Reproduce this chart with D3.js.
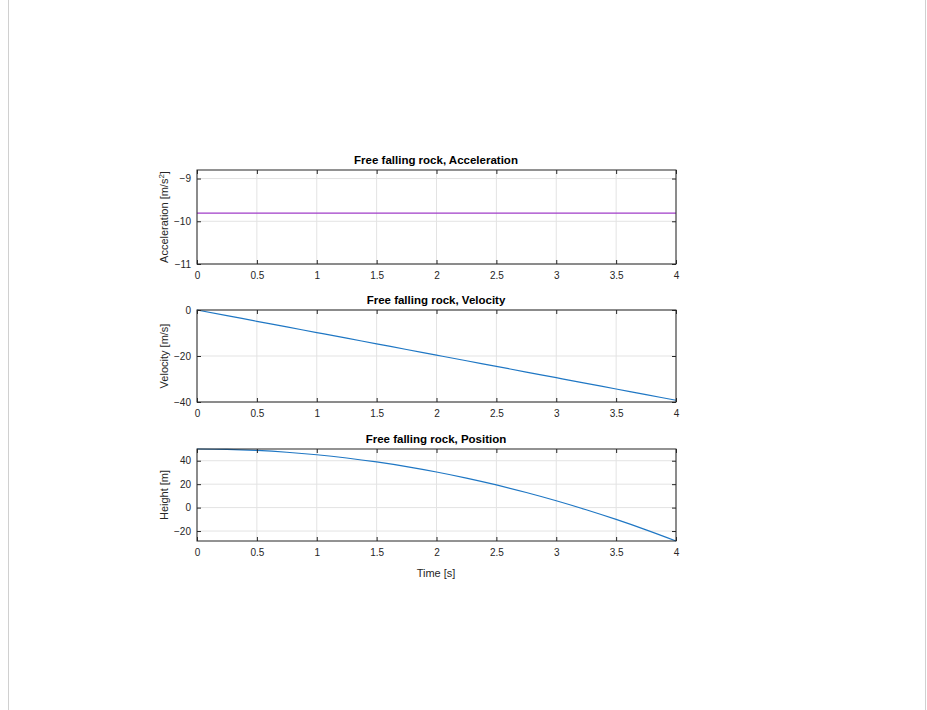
<!DOCTYPE html><html><head><script src="https://cdn.jsdelivr.net/npm/d3@7"></script>
<style>body{margin:0;background:#fff}svg{font-family:"Liberation Sans",Arial,sans-serif}</style></head><body>
<svg id="c" width="927" height="710"></svg>
<script>
const times=[0,0.25,0.5,0.75,1,1.25,1.5,1.75,2,2.25,2.5,2.75,3,3.25,3.5,3.75,4];
const acceleration=[-9.81,-9.81,-9.81,-9.81,-9.81,-9.81,-9.81,-9.81,-9.81,-9.81,-9.81,-9.81,-9.81,-9.81,-9.81,-9.81,-9.81];
const velocity=[0,-2.45,-4.91,-7.36,-9.81,-12.26,-14.72,-17.17,-19.62,-22.07,-24.53,-26.98,-29.43,-31.88,-34.34,-36.79,-39.24];
const position=[50,49.69,48.77,47.24,45.10,42.34,38.96,34.98,30.38,25.17,19.34,12.91,5.86,-1.81,-10.09,-18.98,-28.48];
const xTicks=[0,0.5,1,1.5,2,2.5,3,3.5,4];
const xTickLabels=["0","0.5","1","1.5","2","2.5","3","3.5","4"];
const panels=[
 {title:"Free falling rock, Acceleration",ylab:"Acceleration [m/s²]",data:acceleration,dom:[-11,-8.8],ticks:[-11,-10,-9],top:170,bot:264,color:"#a03cc8"},
 {title:"Free falling rock, Velocity",ylab:"Velocity [m/s]",data:velocity,dom:[-40,0],ticks:[-40,-20,0],top:310,bot:402,color:"#1f77c4"},
 {title:"Free falling rock, Position",ylab:"Height [m]",data:position,dom:[-28.5,50],ticks:[-20,0,20,40],top:449,bot:541,color:"#1f77c4"}
];
const svg=d3.select("#c");
svg.append("line").attr("x1",8.5).attr("x2",8.5).attr("y1",0).attr("y2",710).attr("stroke","#d0d0d0");
svg.append("line").attr("x1",925.5).attr("x2",925.5).attr("y1",0).attr("y2",710).attr("stroke","#d0d0d0");
const x=d3.scaleLinear().domain([0,4]).range([197,676]);
panels.forEach((p,i)=>{
 const y=d3.scaleLinear().domain(p.dom).range([p.bot,p.top]);
 const g=svg.append("g");
 xTicks.forEach(t=>g.append("line").attr("x1",x(t)).attr("x2",x(t)).attr("y1",p.top).attr("y2",p.bot).attr("stroke","#e3e3e3"));
 p.ticks.forEach(t=>g.append("line").attr("x1",197).attr("x2",676).attr("y1",y(t)).attr("y2",y(t)).attr("stroke","#e3e3e3"));
 g.append("path").datum(p.data).attr("fill","none").attr("stroke",p.color).attr("stroke-width",1.2)
  .attr("d",d3.line().x((d,j)=>x(times[j])).y(d=>y(d)).curve(d3.curveMonotoneX));
 g.append("rect").attr("x",197).attr("y",p.top).attr("width",479).attr("height",p.bot-p.top).attr("fill","none").attr("stroke","#262626");
 const xa=g.append("g").attr("transform",`translate(0,${p.bot})`).call(d3.axisBottom(x).tickValues(xTicks).tickFormat((d,k)=>xTickLabels[k]).tickSizeInner(-4).tickSizeOuter(0).tickPadding(8));
 const xt=g.append("g").attr("transform",`translate(0,${p.top})`).call(d3.axisTop(x).tickValues(xTicks).tickFormat("").tickSizeInner(-4).tickSizeOuter(0));
 const ya=g.append("g").attr("transform","translate(197,0)").call(d3.axisLeft(y).tickValues(p.ticks).tickFormat(d3.format("d")).tickSizeInner(-4).tickSizeOuter(0).tickPadding(6));
 const yr=g.append("g").attr("transform","translate(676,0)").call(d3.axisRight(y).tickValues(p.ticks).tickFormat("").tickSizeInner(-4).tickSizeOuter(0));
 [xa,xt,ya,yr].forEach(a=>{a.select(".domain").remove();a.selectAll("line").attr("stroke","#262626");a.selectAll("text").attr("fill","#262626").style("font-size","10px").style("font-family","Liberation Sans, Arial, sans-serif");});
 g.append("text").attr("x",436).attr("y",p.top-6).attr("text-anchor","middle").attr("font-weight","bold").attr("font-size","11.5px").attr("fill","#000").text(p.title);
 const yl=g.append("text").attr("transform",`translate(168,${(p.top+p.bot)/2}) rotate(-90)`).attr("text-anchor","middle").attr("font-size","11px").attr("fill","#262626");
 if(i===0){yl.append("tspan").text("Acceleration [m/s");yl.append("tspan").attr("dy",-4).attr("font-size","8px").text("2");yl.append("tspan").attr("dy",4).text("]");}
 else yl.text(p.ylab);
});
svg.append("text").attr("x",436).attr("y",577).attr("text-anchor","middle").attr("font-size","11px").attr("fill","#262626").text("Time [s]");
</script></body></html>
